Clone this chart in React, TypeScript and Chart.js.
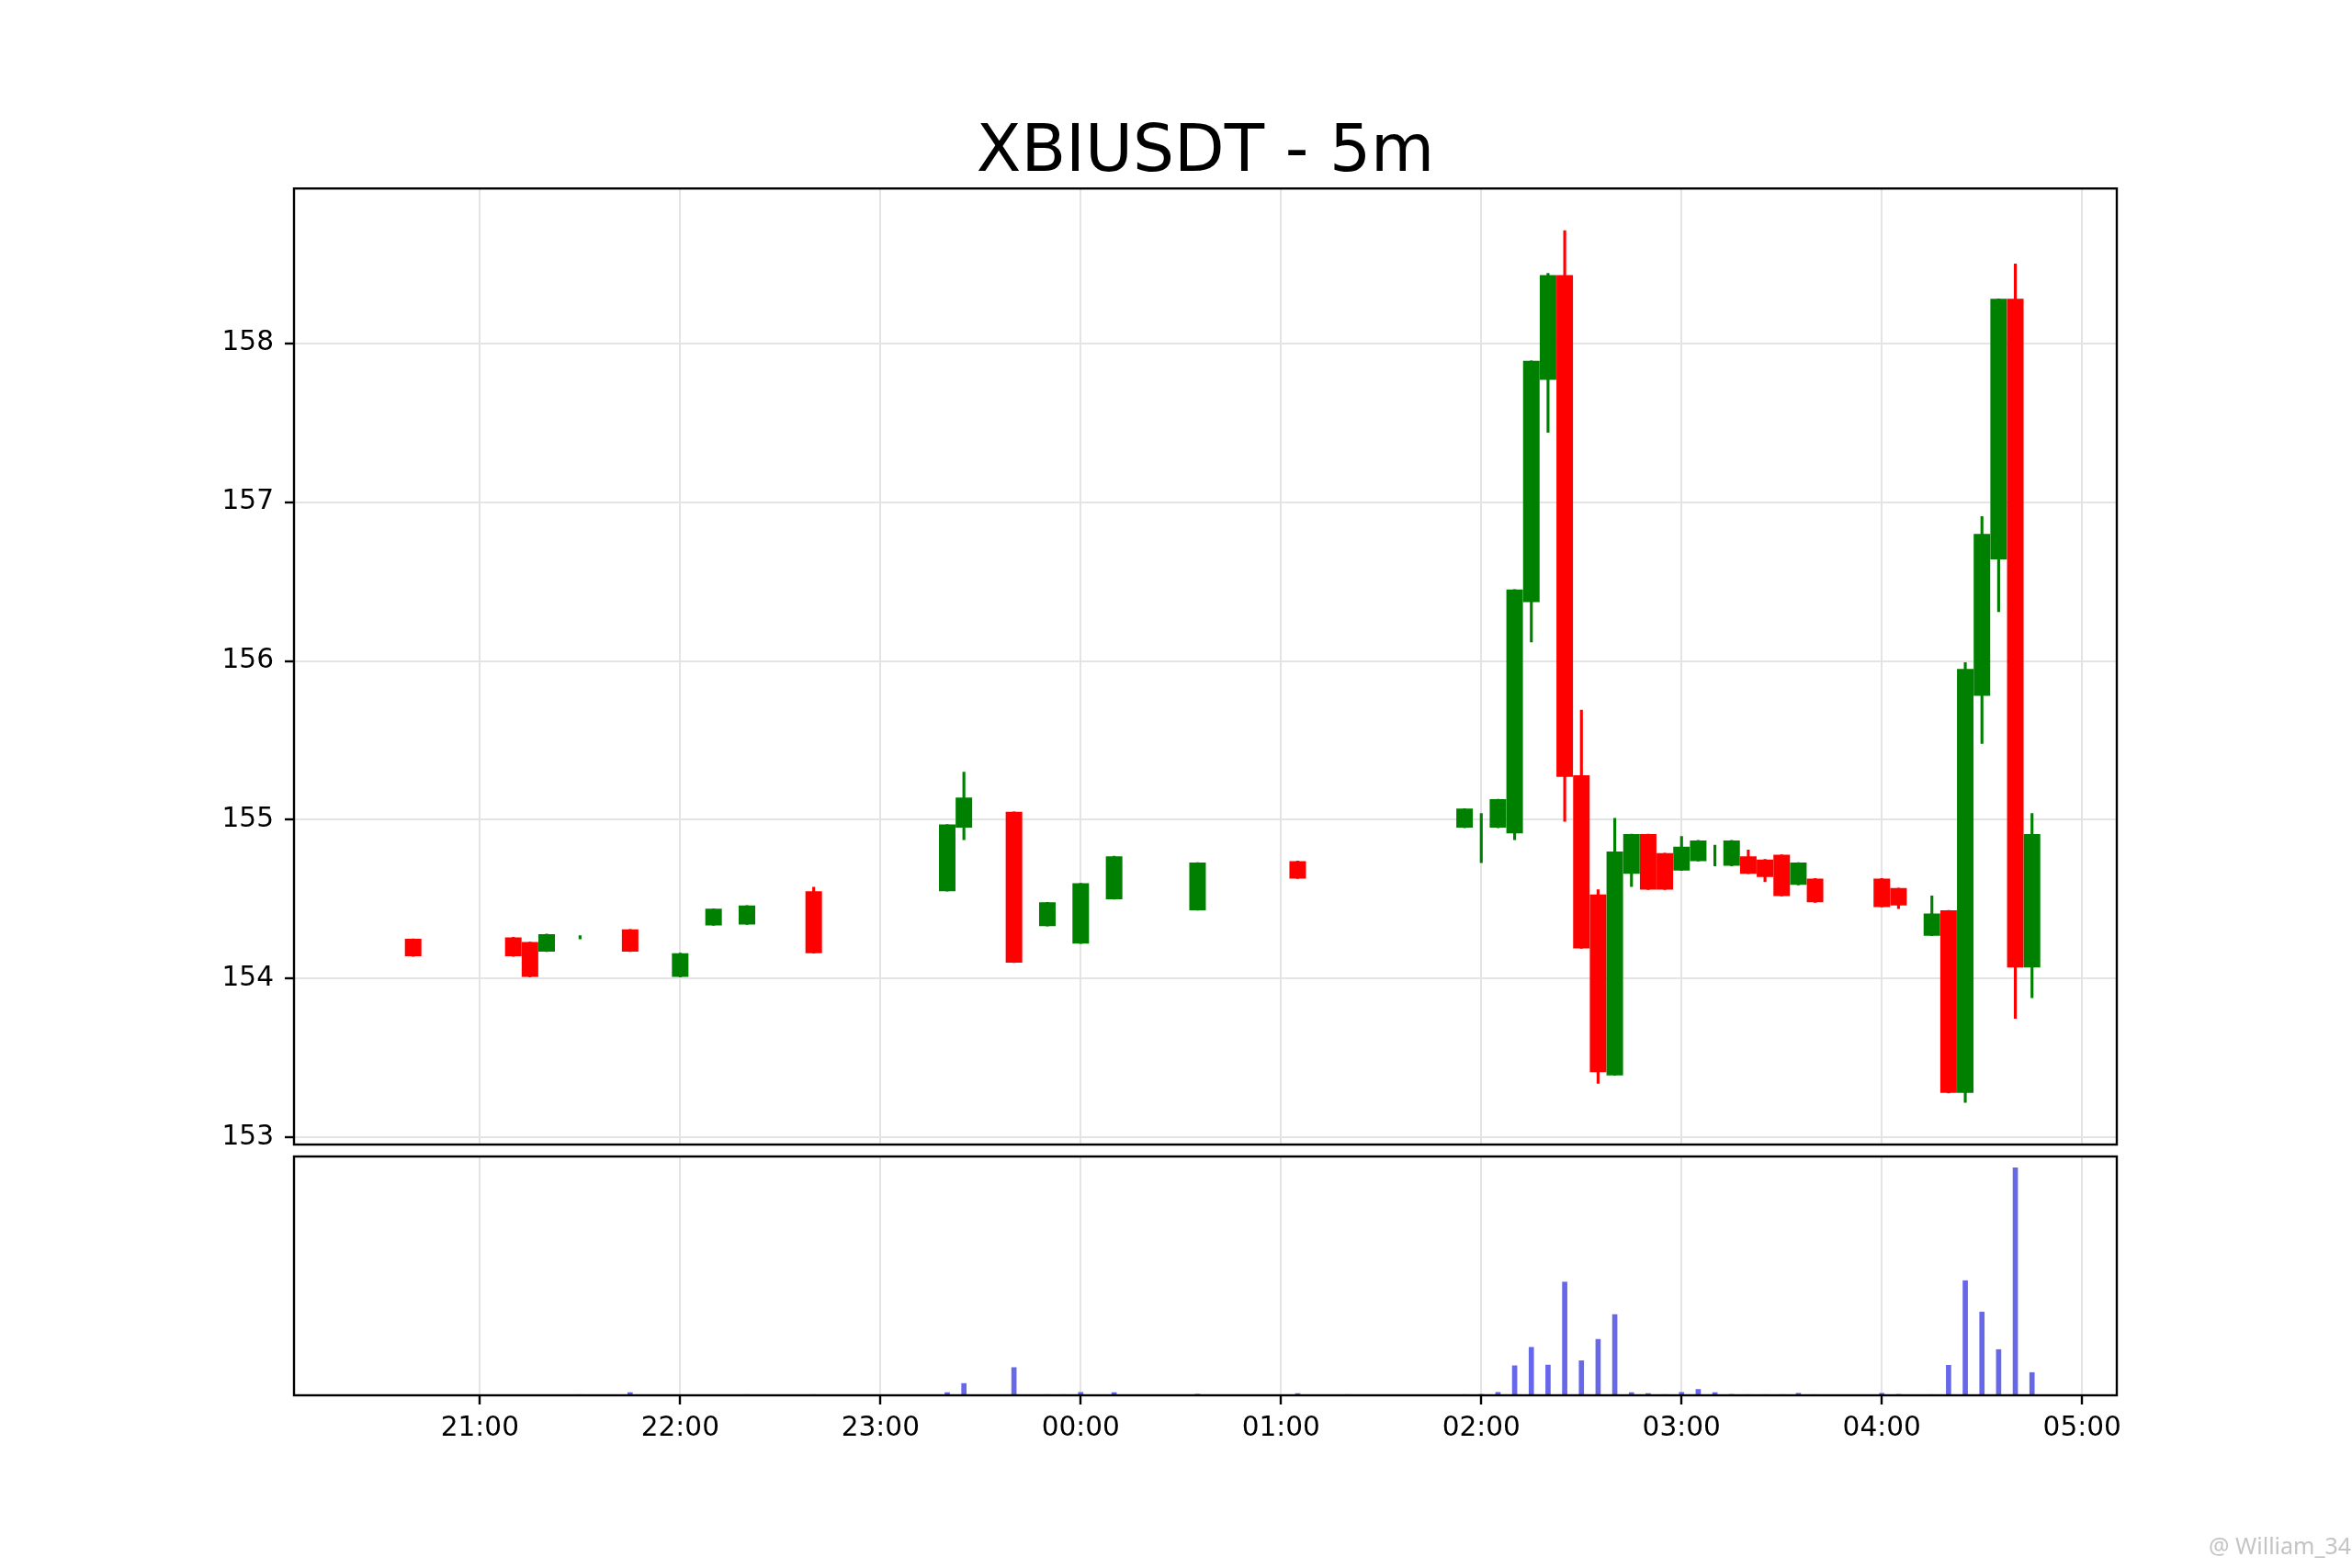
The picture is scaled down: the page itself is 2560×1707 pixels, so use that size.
import React, { useEffect, useRef } from "react";
import { Chart, registerables } from "chart.js";

Chart.register(...registerables);

const TITLE = "XBIUSDT - 5m";
const WATERMARK = "@ William_34";

// 5-minute candles (times of day, crossing midnight)
const candleTimes = [
  "20:40", "21:10", "21:15", "21:20", "21:30", "21:45", "22:00", "22:10", "22:20", "22:40",
  "23:20", "23:25", "23:40", "23:50", "00:00", "00:10", "00:35", "01:05", "01:55", "02:00",
  "02:05", "02:10", "02:15", "02:20", "02:25", "02:30", "02:35", "02:40", "02:45", "02:50",
  "02:55", "03:00", "03:05", "03:10", "03:15", "03:20", "03:25", "03:30", "03:35", "03:40",
  "04:00", "04:05", "04:15", "04:20", "04:25", "04:30", "04:35", "04:40", "04:45",
];
const opens = [
  154.25, 154.26, 154.23, 154.17, 154.26, 154.31, 154.01, 154.335, 154.34, 154.55,
  154.55, 154.95, 155.05, 154.33, 154.22, 154.5, 154.43, 154.74, 154.95, 155.0,
  154.95, 154.915, 156.37, 157.77, 158.43, 155.28, 154.53, 153.39, 154.66, 154.91,
  154.79, 154.68, 154.74, 154.78, 154.71, 154.77, 154.75, 154.78, 154.59, 154.63,
  154.63, 154.57, 154.27, 154.43, 153.28, 155.78, 156.64, 158.28, 154.07,
];
const highs = [
  154.25, 154.26, 154.23, 154.28, 154.27, 154.31, 154.16, 154.44, 154.46, 154.575,
  154.97, 155.3, 155.05, 154.48, 154.6, 154.77, 154.73, 154.74, 155.07, 155.04,
  155.13, 156.45, 157.89, 158.44, 158.71, 155.69, 154.56, 155.01, 154.91, 154.91,
  154.79, 154.895, 154.87, 154.84, 154.87, 154.81, 154.75, 154.78, 154.73, 154.63,
  154.63, 154.57, 154.52, 154.43, 155.99, 156.91, 158.28, 158.5, 155.04,
];
const lows = [
  154.14, 154.14, 154.01, 154.17, 154.25, 154.17, 154.01, 154.335, 154.34, 154.16,
  154.55, 154.875, 154.1, 154.33, 154.22, 154.5, 154.43, 154.63, 154.95, 154.73,
  154.95, 154.875, 156.12, 157.44, 154.99, 154.19, 153.34, 153.39, 154.58, 154.56,
  154.56, 154.68, 154.74, 154.71, 154.71, 154.66, 154.61, 154.52, 154.59, 154.48,
  154.45, 154.44, 154.27, 153.28, 153.22, 155.48, 156.31, 153.75, 153.88,
];
const closes = [
  154.14, 154.14, 154.01, 154.28, 154.26, 154.17, 154.16, 154.44, 154.46, 154.16,
  154.97, 155.14, 154.1, 154.48, 154.6, 154.77, 154.73, 154.63, 155.07, 155.0,
  155.13, 156.45, 157.89, 158.43, 155.27, 154.19, 153.41, 154.8, 154.91, 154.56,
  154.56, 154.83, 154.87, 154.78, 154.87, 154.66, 154.64, 154.52, 154.73, 154.48,
  154.45, 154.46, 154.41, 153.28, 155.95, 156.8, 158.28, 154.07, 154.91,
];

// Volume panel (relative units)
const volumeTimes = [
  "20:40", "21:10", "21:15", "21:20", "21:30", "21:45", "22:00", "22:10", "22:20", "22:40",
  "23:20", "23:25", "23:40", "23:50", "23:55", "00:00", "00:10", "00:35", "01:05", "01:20",
  "01:55", "02:00", "02:05", "02:10", "02:15", "02:20", "02:25", "02:30", "02:35", "02:40",
  "02:45", "02:50", "02:55", "03:00", "03:05", "03:10", "03:15", "03:20", "03:25", "03:30",
  "03:35", "03:40", "04:00", "04:05", "04:15", "04:20", "04:25", "04:30", "04:35", "04:40",
  "04:45",
];
const volumes = [
  0.2, 0.2, 0.2, 0.2, 0.3, 1.2, 0.2, 0.2, 0.3, 0.3,
  1.2, 5.2, 12.2, 0.3, 0.3, 1.3, 1.2, 0.5, 0.8, 0.3,
  0.3, 0.4, 1.3, 13.0, 21.1, 13.3, 49.8, 15.2, 24.6, 35.5,
  1.2, 0.8, 0.3, 1.3, 2.6, 1.2, 0.4, 0.3, 0.3, 0.3,
  0.9, 0.3, 0.9, 0.4, 0.3, 13.2, 50.4, 36.6, 20.1, 100,
  10.0,
];

const priceTicks = [153, 154, 155, 156, 157, 158];
const timeTicks = ["21:00", "22:00", "23:00", "00:00", "01:00", "02:00", "03:00", "04:00", "05:00"];

// axis limits (minutes since midnight of the first day)
const X_MIN = 1204.3;
const X_MAX = 1750.4;
const Y_MIN = 152.955;
const Y_MAX = 158.975;
const VOL_MAX = 105;

const UP = "#008000";
const DOWN = "#ff0000";
const VOL_COLOR = "#6767ea";
const GRID = "#e4e4e4";
const FONT = "DejaVu Sans";

function toMinutes(t: string): number {
  const [h, m] = t.split(":").map(Number);
  return (h < 12 ? h + 24 : h) * 60 + m;
}

const framePlugin = {
  id: "frame",
  afterDraw(chart: any) {
    const { ctx, chartArea: a } = chart;
    ctx.save();
    ctx.strokeStyle = "#000";
    ctx.lineWidth = 2.4;
    ctx.strokeRect(a.left, a.top, a.right - a.left, a.bottom - a.top);
    ctx.restore();
  },
};

export default function App() {
  const priceRef = useRef<HTMLCanvasElement>(null);
  const volRef = useRef<HTMLCanvasElement>(null);

  useEffect(() => {
    const xs = candleTimes.map(toMinutes);
    const hourValues = timeTicks.map(toMinutes);
    const colorFor = (ctx: any) =>
      closes[ctx.dataIndex] >= opens[ctx.dataIndex] ? UP : DOWN;

    const priceChart = new Chart(priceRef.current as HTMLCanvasElement, {
      type: "bar",
      data: {
        datasets: [
          {
            label: "Body",
            data: xs.map((x, i) => ({ x, y: [opens[i], closes[i]] })) as any,
            backgroundColor: colorFor,
            borderWidth: 0,
            inflateAmount: 0,
            barThickness: 18,
            maxBarThickness: 18,
            grouped: false,
            order: 1,
          } as any,
          {
            label: "Wick",
            data: xs.map((x, i) => ({ x, y: [lows[i], highs[i]] })) as any,
            backgroundColor: colorFor,
            borderWidth: 0,
            barThickness: 2.5,
            maxBarThickness: 2.5,
            grouped: false,
            order: 2,
          } as any,
        ],
      },
      options: {
        responsive: false,
        animation: false,
        devicePixelRatio: 1,
        layout: { padding: { top: 130, left: 0, right: 256, bottom: 461 } },
        plugins: {
          legend: { display: false },
          tooltip: { enabled: false },
          title: {
            display: true,
            text: TITLE,
            fullSize: false,
            padding: 0,
            color: "#000",
            font: { family: FONT, size: 71, weight: "normal", lineHeight: 1.059 },
          },
        },
        scales: {
          x: {
            type: "linear",
            min: X_MIN,
            max: X_MAX,
            offset: false,
            afterBuildTicks: (s: any) => {
              s.ticks = hourValues.map((v) => ({ value: v }));
            },
            ticks: { display: false },
            grid: { offset: false, color: GRID, lineWidth: 2, drawTicks: false },
            border: { display: false },
            afterFit: (s: any) => {
              s.height = 0;
            },
          },
          y: {
            type: "linear",
            min: Y_MIN,
            max: Y_MAX,
            beginAtZero: false,
            afterBuildTicks: (s: any) => {
              s.ticks = priceTicks.map((v) => ({ value: v }));
            },
            ticks: {
              color: "#000",
              padding: 12,
              font: { family: FONT, size: 29.6 },
              callback: (v: any) => String(v),
            },
            grid: { color: GRID, lineWidth: 2, tickColor: "#000", tickLength: 10, tickWidth: 2.4 },
            border: { display: false },
            afterFit: (s: any) => {
              s.width = 320;
            },
          },
        },
      } as any,
      plugins: [framePlugin],
    });

    const volChart = new Chart(volRef.current as HTMLCanvasElement, {
      type: "bar",
      data: {
        datasets: [
          {
            label: "Volume",
            data: volumeTimes.map((t, i) => ({ x: toMinutes(t), y: volumes[i] })) as any,
            backgroundColor: VOL_COLOR,
            borderWidth: 0,
            barThickness: 5,
            maxBarThickness: 5,
            grouped: false,
          } as any,
        ],
      },
      options: {
        responsive: false,
        animation: false,
        devicePixelRatio: 1,
        layout: { padding: { top: 1259, left: 0, right: 256, bottom: 128 } },
        plugins: {
          legend: { display: false },
          tooltip: { enabled: false },
          title: { display: false },
        },
        scales: {
          x: {
            type: "linear",
            min: X_MIN,
            max: X_MAX,
            offset: false,
            afterBuildTicks: (s: any) => {
              s.ticks = hourValues.map((v) => ({ value: v }));
            },
            ticks: {
              color: "#000",
              padding: 9,
              maxRotation: 0,
              autoSkip: false,
              font: { family: FONT, size: 29.6 },
              callback: (_v: any, i: number) => timeTicks[i],
            },
            grid: { offset: false, color: GRID, lineWidth: 2, tickColor: "#000", tickLength: 10, tickWidth: 2.4 },
            border: { display: false },
            afterFit: (s: any) => {
              s.height = 60;
            },
          },
          y: {
            type: "linear",
            min: 0,
            max: VOL_MAX,
            ticks: { display: false },
            grid: { display: false },
            border: { display: false },
            afterFit: (s: any) => {
              s.width = 320;
            },
          },
        },
      } as any,
      plugins: [framePlugin],
    });

    return () => {
      priceChart.destroy();
      volChart.destroy();
    };
  }, []);

  return (
    <div
      style={{
        position: "fixed",
        left: 0,
        top: 0,
        width: 2560,
        height: 1707,
        background: "#fff",
        overflow: "hidden",
      }}
    >
      <canvas
        ref={priceRef}
        width={2560}
        height={1707}
        style={{ position: "absolute", left: 0, top: 0, width: 2560, height: 1707 }}
      />
      <canvas
        ref={volRef}
        width={2560}
        height={1707}
        style={{ position: "absolute", left: 0, top: 0, width: 2560, height: 1707 }}
      />
      <div
        style={{
          position: "absolute",
          left: 2404,
          top: 1670,
          fontFamily: "'Noto Sans', sans-serif",
          fontSize: 25,
          lineHeight: "25px",
          color: "#c4c4c4",
          whiteSpace: "nowrap",
        }}
      >
        {WATERMARK}
      </div>
    </div>
  );
}
